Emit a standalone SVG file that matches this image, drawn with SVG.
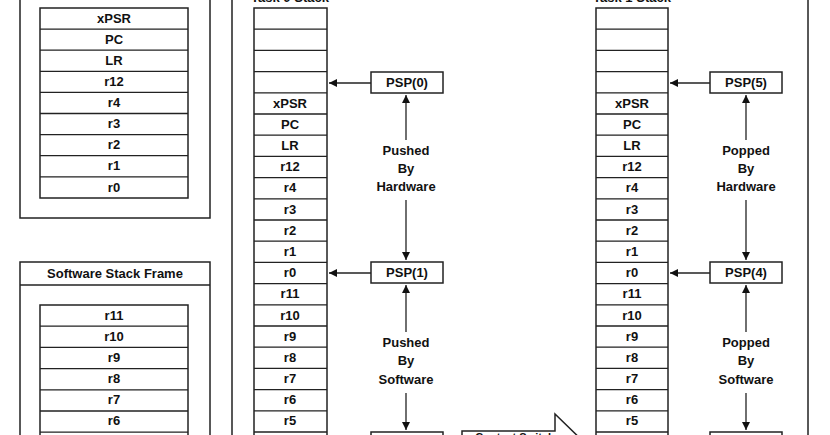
<svg xmlns="http://www.w3.org/2000/svg" width="830" height="435" viewBox="0 0 830 435">
<defs>
<style>
.b{fill:#fff;stroke:#222;stroke-width:1.5}
.t{font-family:"Liberation Sans",Arial,sans-serif;font-size:13px;font-weight:bold;fill:#111;text-anchor:middle}
.l{stroke:#222;stroke-width:1.3;fill:none}
</style>
<marker id="a" viewBox="0 0 10 10" refX="10" refY="5" markerWidth="8" markerHeight="8" orient="auto-start-reverse" markerUnits="userSpaceOnUse"><path d="M0,0L10,5L0,10z" fill="#111"/></marker>
</defs>
<rect width="830" height="435" fill="#fff"/>
<g id="hwframe">
<rect class="b" x="20" y="-20" width="190" height="238"/>
<g id="hwrows">
<rect class="b" x="40" y="8" width="148" height="190"/>
<path class="l" d="M40,29.1H188M40,50.2H188M40,71.3H188M40,92.4H188M40,113.5H188M40,134.6H188M40,155.7H188M40,176.8H188"/>
<text class="t" x="114" y="23">xPSR</text><text class="t" x="114" y="44">PC</text><text class="t" x="114" y="65">LR</text><text class="t" x="114" y="86">r12</text><text class="t" x="114" y="107">r4</text><text class="t" x="114" y="128">r3</text><text class="t" x="114" y="149">r2</text><text class="t" x="114" y="170">r1</text><text class="t" x="114" y="192">r0</text>
</g>
</g>
<g id="swframe">
<rect class="b" x="20" y="262" width="190" height="190"/>
<path class="l" d="M20,285H210"/>
<text class="t" x="115" y="278">Software Stack Frame</text>
<rect class="b" x="40" y="305" width="148" height="140"/>
<path class="l" d="M40,326.2H188M40,347.4H188M40,368.6H188M40,389.8H188M40,411H188M40,432.2H188"/>
<text class="t" x="114" y="320">r11</text><text class="t" x="114" y="341">r10</text><text class="t" x="114" y="362">r9</text><text class="t" x="114" y="383">r8</text><text class="t" x="114" y="404">r7</text><text class="t" x="114" y="425">r6</text>
</g>
<g id="main">
<rect class="b" x="232" y="-20" width="576" height="470"/>
<text class="t" x="290" y="2">Task 0 Stack</text>
<text class="t" x="632" y="2">Task 1 Stack</text>
</g>
<g id="task0">
<rect class="b" x="254" y="8" width="73" height="440"/>
<path class="l" d="M254,29.2H327M254,50.4H327M254,71.6H327M254,92.8H327M254,114H327M254,135.2H327M254,156.4H327M254,177.6H327M254,198.8H327M254,220H327M254,241.2H327M254,262.4H327M254,283.6H327M254,304.8H327M254,326H327M254,347.2H327M254,368.4H327M254,389.6H327M254,410.8H327M254,432H327"/>
<text class="t" x="290" y="108">xPSR</text><text class="t" x="290" y="129">PC</text><text class="t" x="290" y="150">LR</text><text class="t" x="290" y="171">r12</text><text class="t" x="290" y="192">r4</text><text class="t" x="290" y="214">r3</text><text class="t" x="290" y="235">r2</text><text class="t" x="290" y="256">r1</text><text class="t" x="290" y="277">r0</text><text class="t" x="290" y="298">r11</text><text class="t" x="290" y="320">r10</text><text class="t" x="290" y="341">r9</text><text class="t" x="290" y="362">r8</text><text class="t" x="290" y="383">r7</text><text class="t" x="290" y="404">r6</text><text class="t" x="290" y="425">r5</text>
</g>
<g id="task1">
<rect class="b" x="596" y="8" width="72" height="440"/>
<path class="l" d="M596,29.2H668M596,50.4H668M596,71.6H668M596,92.8H668M596,114H668M596,135.2H668M596,156.4H668M596,177.6H668M596,198.8H668M596,220H668M596,241.2H668M596,262.4H668M596,283.6H668M596,304.8H668M596,326H668M596,347.2H668M596,368.4H668M596,389.6H668M596,410.8H668M596,432H668"/>
<text class="t" x="632" y="108">xPSR</text><text class="t" x="632" y="129">PC</text><text class="t" x="632" y="150">LR</text><text class="t" x="632" y="171">r12</text><text class="t" x="632" y="192">r4</text><text class="t" x="632" y="214">r3</text><text class="t" x="632" y="235">r2</text><text class="t" x="632" y="256">r1</text><text class="t" x="632" y="277">r0</text><text class="t" x="632" y="298">r11</text><text class="t" x="632" y="320">r10</text><text class="t" x="632" y="341">r9</text><text class="t" x="632" y="362">r8</text><text class="t" x="632" y="383">r7</text><text class="t" x="632" y="404">r6</text><text class="t" x="632" y="425">r5</text>
</g>
<g id="psp0"><rect class="b" x="371" y="72" width="72" height="21"/><text class="t" x="407" y="87">PSP(0)</text></g>
<g id="psp1"><rect class="b" x="371" y="262" width="72" height="21"/><text class="t" x="407" y="277">PSP(1)</text></g>
<g id="psp2"><rect class="b" x="371" y="432" width="72" height="21"/></g>
<g id="psp5"><rect class="b" x="710" y="72" width="72" height="21"/><text class="t" x="746" y="87">PSP(5)</text></g>
<g id="psp4"><rect class="b" x="710" y="262" width="72" height="21"/><text class="t" x="746" y="277">PSP(4)</text></g>
<g id="psp3"><rect class="b" x="710" y="432" width="72" height="21"/></g>
<g id="labels">
<text class="t" x="406" y="155">Pushed</text><text class="t" x="406" y="173">By</text><text class="t" x="406" y="191">Hardware</text>
<text class="t" x="406" y="347">Pushed</text><text class="t" x="406" y="365">By</text><text class="t" x="406" y="384">Software</text>
<text class="t" x="746" y="155">Popped</text><text class="t" x="746" y="173">By</text><text class="t" x="746" y="191">Hardware</text>
<text class="t" x="746" y="347">Popped</text><text class="t" x="746" y="365">By</text><text class="t" x="746" y="384">Software</text>
</g>
<g id="ctx">
<path class="b" d="M462,448V431H555V414L590,448"/>
<text class="t" x="515" y="441" style="font-size:11px">Context Switch</text>
</g>
<g id="connectors" class="l">
<path d="M371,83H329" marker-end="url(#a)"/>
<path d="M371,273H329" marker-end="url(#a)"/>
<path d="M710,83H670" marker-end="url(#a)"/>
<path d="M710,273H670" marker-end="url(#a)"/>
<path d="M406,140V95" marker-end="url(#a)"/>
<path d="M406,200V260" marker-end="url(#a)"/>
<path d="M406,332V285" marker-end="url(#a)"/>
<path d="M406,393V430" marker-end="url(#a)"/>
<path d="M746,140V95" marker-end="url(#a)"/>
<path d="M746,200V260" marker-end="url(#a)"/>
<path d="M746,332V285" marker-end="url(#a)"/>
<path d="M746,393V430" marker-end="url(#a)"/>
</g>
</svg>
